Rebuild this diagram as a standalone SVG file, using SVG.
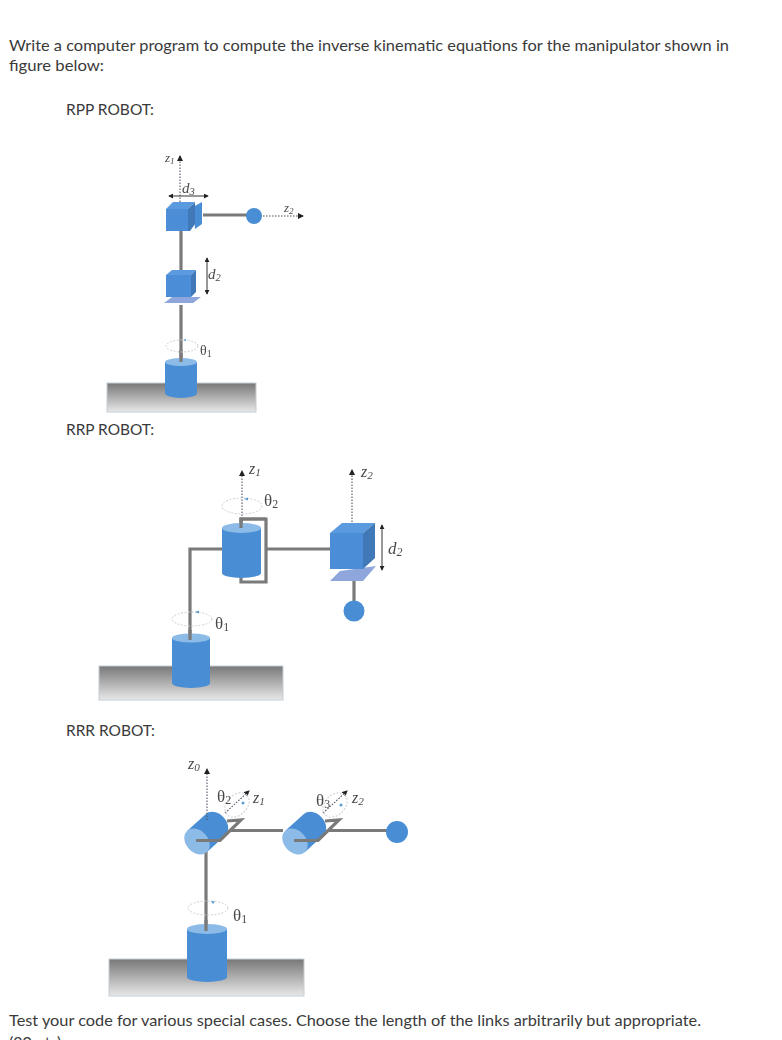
<svg xmlns="http://www.w3.org/2000/svg" width="782" height="1040" viewBox="0 0 782 1040">
<style>
.t{font-family:Lato,"Liberation Sans",sans-serif;fill:#3a3a3a}
.m{font-family:"Liberation Serif","DejaVu Serif",serif;fill:#4a4a4a;font-style:italic}
.u{font-style:normal}
.s{font-size:70%}
.b{fill:#4a8dd4}
.top{fill:#8dbbe8}
.ct{fill:#5b9adf}
.side{fill:#3f78b8}
.mid{fill:#4c8dd6}
.plate{fill:#8ea6dc}
.gnd{fill:url(#g);stroke:#c4ced6;stroke-width:1}
.link{fill:none;stroke:#7a7a7a;stroke-width:3.2}
.ax{fill:none;stroke:#556;stroke-width:1.1;stroke-dasharray:1.6 1.4}
.dim{fill:none;stroke:#333;stroke-width:1;marker-start:url(#a);marker-end:url(#a)}
.rot{fill:none;stroke:#c6cfd6;stroke-width:1;stroke-dasharray:2 1.5}
.tick{fill:#5a9bd0}
.soft{filter:url(#f)}
</style>
<defs>
<filter id="f" x="-5%" y="-5%" width="110%" height="110%"><feGaussianBlur stdDeviation="0.4"/></filter>
<linearGradient id="g" x1="0" y1="0" x2="0" y2="1"><stop offset="0" stop-color="#787878"/><stop offset="1" stop-color="#e8e8e8"/></linearGradient>
<marker id="a" viewBox="0 0 6 6" refX="5" refY="3" markerWidth="5" markerHeight="5" markerUnits="userSpaceOnUse" orient="auto-start-reverse"><path d="M0 0L6 3L0 6Z" fill="#222"/></marker>
<marker id="e" viewBox="0 0 6 6" refX="5" refY="3" markerWidth="6" markerHeight="6" markerUnits="userSpaceOnUse" orient="auto"><path d="M0 0L6 3L0 6Z" fill="#222"/></marker>
</defs>
<rect width="782" height="1040" fill="#fff"/>

<g id="text">
<text class="t" x="9" y="51" font-size="16" textLength="720" lengthAdjust="spacingAndGlyphs">Write a computer program to compute the inverse kinematic equations for the manipulator shown in</text>
<text class="t" x="9" y="71" font-size="16" textLength="95" lengthAdjust="spacingAndGlyphs">figure below:</text>
<text class="t" x="66" y="115" font-size="16" textLength="88" lengthAdjust="spacingAndGlyphs">RPP ROBOT:</text>
<text class="t" x="66" y="435" font-size="16" textLength="88" lengthAdjust="spacingAndGlyphs">RRP ROBOT:</text>
<text class="t" x="66" y="736" font-size="16" textLength="89" lengthAdjust="spacingAndGlyphs">RRR ROBOT:</text>
<text class="t" x="9" y="1026" font-size="16" textLength="692" lengthAdjust="spacingAndGlyphs">Test your code for various special cases. Choose the length of the links arbitrarily but appropriate.</text>
<text class="t" x="9" y="1048" font-size="16">(20 pts)</text>
</g>

<g id="connectors" class="soft">
<!-- RPP -->
<path class="link" d="M181 362V305M181 270V231M203 215H247"/>
<path class="ax" d="M180 202V156" marker-end="url(#e)"/>
<path class="ax" d="M263 216H303" marker-end="url(#e)"/>
<path class="dim" d="M169 196H208"/>
<path class="dim" d="M207 258V294"/>
<!-- RRP -->
<path class="link" d="M190 640V549H223M241 528V519H266V582H241V573M266 549H331M354 581V603"/>
<path class="ax" d="M242 528V471" marker-end="url(#e)"/>
<path class="ax" d="M352 528V470" marker-end="url(#e)"/>
<path class="dim" d="M382 525V570"/>
<!-- RRR -->
<path class="link" d="M206 930V850M231 830.500H283M329 830.500H387"/>
</g>

<g id="rpp-robot" class="soft">
<rect id="rpp-ground" class="gnd" x="107" y="383" width="149" height="29"/>
<g id="rpp-base">
<path class="b" d="M165 362V393A16 5 0 0 0 197 393V362Z"/>
<ellipse class="top" cx="181" cy="362" rx="16" ry="4"/>
<path class="link" d="M181 362V350"/>
</g>
<g id="rpp-plate"><path class="plate" d="M164 303L172 297H201L193 303Z"/></g>
<g id="rpp-cube2">
<path class="ct" d="M166 275L172 270H196L191 275Z"/>
<path class="side" d="M191 275L196 270V292L191 297Z"/>
<rect class="mid" x="166" y="275" width="25" height="22"/>
</g>
<g id="rpp-cube1">
<path class="b" d="M193 207L202 202V224L195 229Z"/>
<path class="ct" d="M166 209L173 202H195L188 209Z"/>
<path class="side" d="M188 209L195 202V224L190 231H188Z"/>
<rect class="mid" x="166" y="209" width="22" height="22"/>
</g>
<circle id="rpp-ball" class="b" cx="254" cy="216" r="8"/>
<ellipse class="rot" cx="182" cy="346" rx="16" ry="6"/>
<path class="tick" d="M183 340l3 -1v2z"/>
</g>

<g id="rrp-robot" class="soft">
<rect id="rrp-ground" class="gnd" x="99" y="666" width="184" height="34"/>
<g id="rrp-base">
<path class="b" d="M172 638V683A19 5 0 0 0 210 683V638Z"/>
<ellipse class="top" cx="191" cy="638" rx="19" ry="4.500"/>
<path class="link" d="M190 640V630"/>
</g>
<ellipse class="rot" cx="192" cy="619" rx="20" ry="7"/>
<path class="tick" d="M195 612l4 -1.500v3z"/>
<g id="rrp-joint2">
<path class="b" d="M222 528V573A19.500 5 0 0 0 261 573V528Z"/>
<ellipse class="top" cx="241.500" cy="528" rx="19.500" ry="5"/>
<path class="link" d="M241 528V519H266"/>
</g>
<ellipse class="rot" cx="242" cy="506" rx="20" ry="8"/>
<path class="tick" d="M244 499l4 -1.500v3z"/>
<g id="rrp-plate"><path class="plate" d="M330 581L340 571L376 566L363 581Z"/></g>
<g id="rrp-cube">
<path class="ct" d="M330 533L342 523H375L363 533Z"/>
<path class="side" d="M363 533L375 523V558L363 569Z"/>
<rect class="mid" x="330" y="533" width="33" height="36"/>
</g>
<circle id="rrp-ball" class="b" cx="354" cy="611" r="10.500"/>
</g>

<g id="rrr-robot" class="soft">
<rect id="rrr-ground" class="gnd" x="109" y="959" width="195" height="37"/>
<g id="rrr-base">
<path class="b" d="M187 929V977A20 5 0 0 0 227 977V929Z"/>
<ellipse class="top" cx="207" cy="929" rx="20" ry="5"/>
<path class="link" d="M206 931V920"/>
</g>
<ellipse class="rot" cx="208" cy="908" rx="20" ry="7"/>
<path class="tick" d="M211 901l4 0.500-2 2.500z"/>
<g id="rrr-joint2">
<g transform="translate(197 841.500) rotate(-42)">
<path class="b" d="M0 -14.500H25A11 14.500 0 0 1 25 14.500H0Z"/>
<ellipse class="top" rx="11" ry="14.500"/>
</g>
<path class="link" d="M227 821L241 820L220 840.500H196"/>
</g>
<g id="rrr-joint3">
<g transform="translate(295 841.500) rotate(-42)">
<path class="b" d="M0 -14.500H25A11 14.500 0 0 1 25 14.500H0Z"/>
<ellipse class="top" rx="11" ry="14.500"/>
</g>
<path class="link" d="M325 821L339 820L318 840.500H294"/>
</g>
<circle id="rrr-ball" class="b" cx="397" cy="832" r="11"/>
<path class="ax" d="M207 820V769" marker-end="url(#e)"/>
<path class="ax" d="M225 813L249 791" marker-end="url(#e)"/>
<path class="ax" d="M323 813L347 791" marker-end="url(#e)"/>
<ellipse class="rot" cx="237" cy="805" rx="14" ry="10" transform="rotate(-45 237 805)"/>
<ellipse class="rot" cx="335" cy="805" rx="14" ry="10" transform="rotate(-45 335 805)"/>
<circle class="tick" cx="243" cy="803" r="1.500"/>
<circle class="tick" cx="341" cy="805" r="1.500"/>
</g>

<g id="labels" class="soft">
<text class="m" x="165" y="162" font-size="13">z<tspan class="s" dy="2">1</tspan></text>
<text class="m" x="182" y="193" font-size="15">d<tspan class="s" dy="2">3</tspan></text>
<text class="m" x="284" y="212" font-size="13">z<tspan class="s" dy="2">2</tspan></text>
<text class="m" x="208" y="279" font-size="15">d<tspan class="s" dy="2">2</tspan></text>
<text class="m u" x="200" y="355" font-size="14">θ<tspan class="s" dy="2">1</tspan></text>
<text class="m" x="249" y="474" font-size="16">z<tspan class="s" dy="2">1</tspan></text>
<text class="m" x="361" y="477" font-size="16">z<tspan class="s" dy="2">2</tspan></text>
<text class="m u" x="264" y="506" font-size="17">θ<tspan class="s" dy="2">2</tspan></text>
<text class="m u" x="215" y="629" font-size="17">θ<tspan class="s" dy="2">1</tspan></text>
<text class="m" x="388" y="554" font-size="17">d<tspan class="s" dy="2">2</tspan></text>
<text class="m" x="188" y="769" font-size="16">z<tspan class="s" dy="2">0</tspan></text>
<text class="m u" x="217" y="802" font-size="17">θ<tspan class="s" dy="2">2</tspan></text>
<text class="m" x="253" y="803" font-size="16">z<tspan class="s" dy="2">1</tspan></text>
<text class="m u" x="316" y="806" font-size="17">θ<tspan class="s" dy="2">3</tspan></text>
<text class="m" x="352" y="803" font-size="16">z<tspan class="s" dy="2">2</tspan></text>
<text class="m u" x="233" y="921" font-size="17">θ<tspan class="s" dy="2">1</tspan></text>
</g>
</svg>
